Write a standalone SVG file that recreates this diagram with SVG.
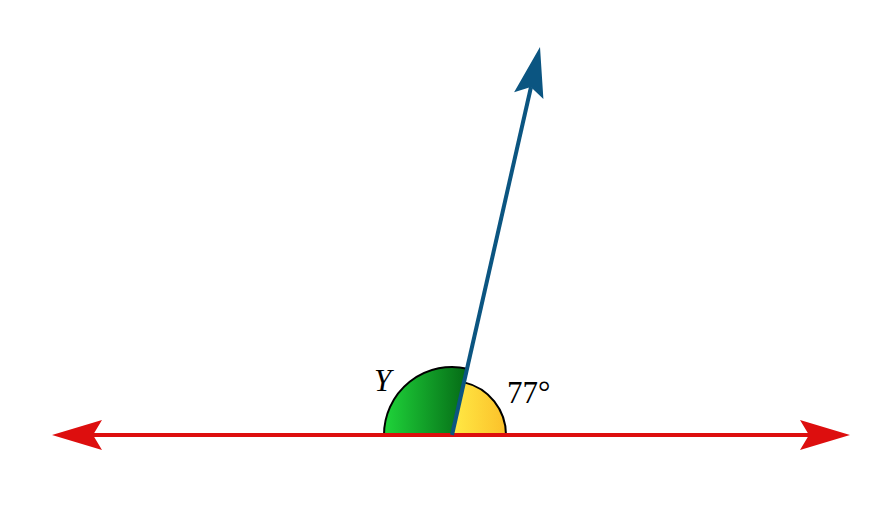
<svg xmlns="http://www.w3.org/2000/svg" width="894" height="506" viewBox="0 0 894 506">
<defs>
<linearGradient id="gGreen" x1="0" y1="0" x2="1" y2="0">
<stop offset="0" stop-color="#1fd43a"/>
<stop offset="1" stop-color="#056a16"/>
</linearGradient>
<linearGradient id="gYellow" x1="0" y1="0" x2="1" y2="0">
<stop offset="0" stop-color="#ffea45"/>
<stop offset="1" stop-color="#fbc02a"/>
</linearGradient>
<style>
.lbl{font-family:"Liberation Serif","DejaVu Serif",serif;fill:#000}
.sector{stroke:#000;stroke-width:2}
</style>
</defs>
<rect width="894" height="506" fill="#fff"/>
<g id="angle-y">
<path class="sector" d="M452,435 L467.3,368.74 A68,68 0 0 0 384,435 Z" fill="url(#gGreen)"/>
</g>
<g id="angle-77">
<path class="sector" d="M452,435 L506,435 A54,54 0 0 0 464.15,382.38 Z" fill="url(#gYellow)"/>
</g>
<g id="connectors">
<line x1="93" y1="435" x2="809" y2="435" stroke="#dd0e0e" stroke-width="4"/>
<polygon points="52,435 102,420 93,435 102,450" fill="#dd0e0e"/>
<polygon points="850,435 800,420 809,435 800,450" fill="#dd0e0e"/>
<line x1="452" y1="435" x2="531" y2="87" stroke="#0b5581" stroke-width="4"/>
<polygon points="540,47 543.4,99.1 530.8,87 514.1,92.3" fill="#0b5581"/>
</g>
<g id="labels">
<text class="lbl" x="374" y="391" font-size="31" font-style="italic">Y</text>
<text class="lbl" x="507" y="403" font-size="31">77°</text>
</g>
</svg>
